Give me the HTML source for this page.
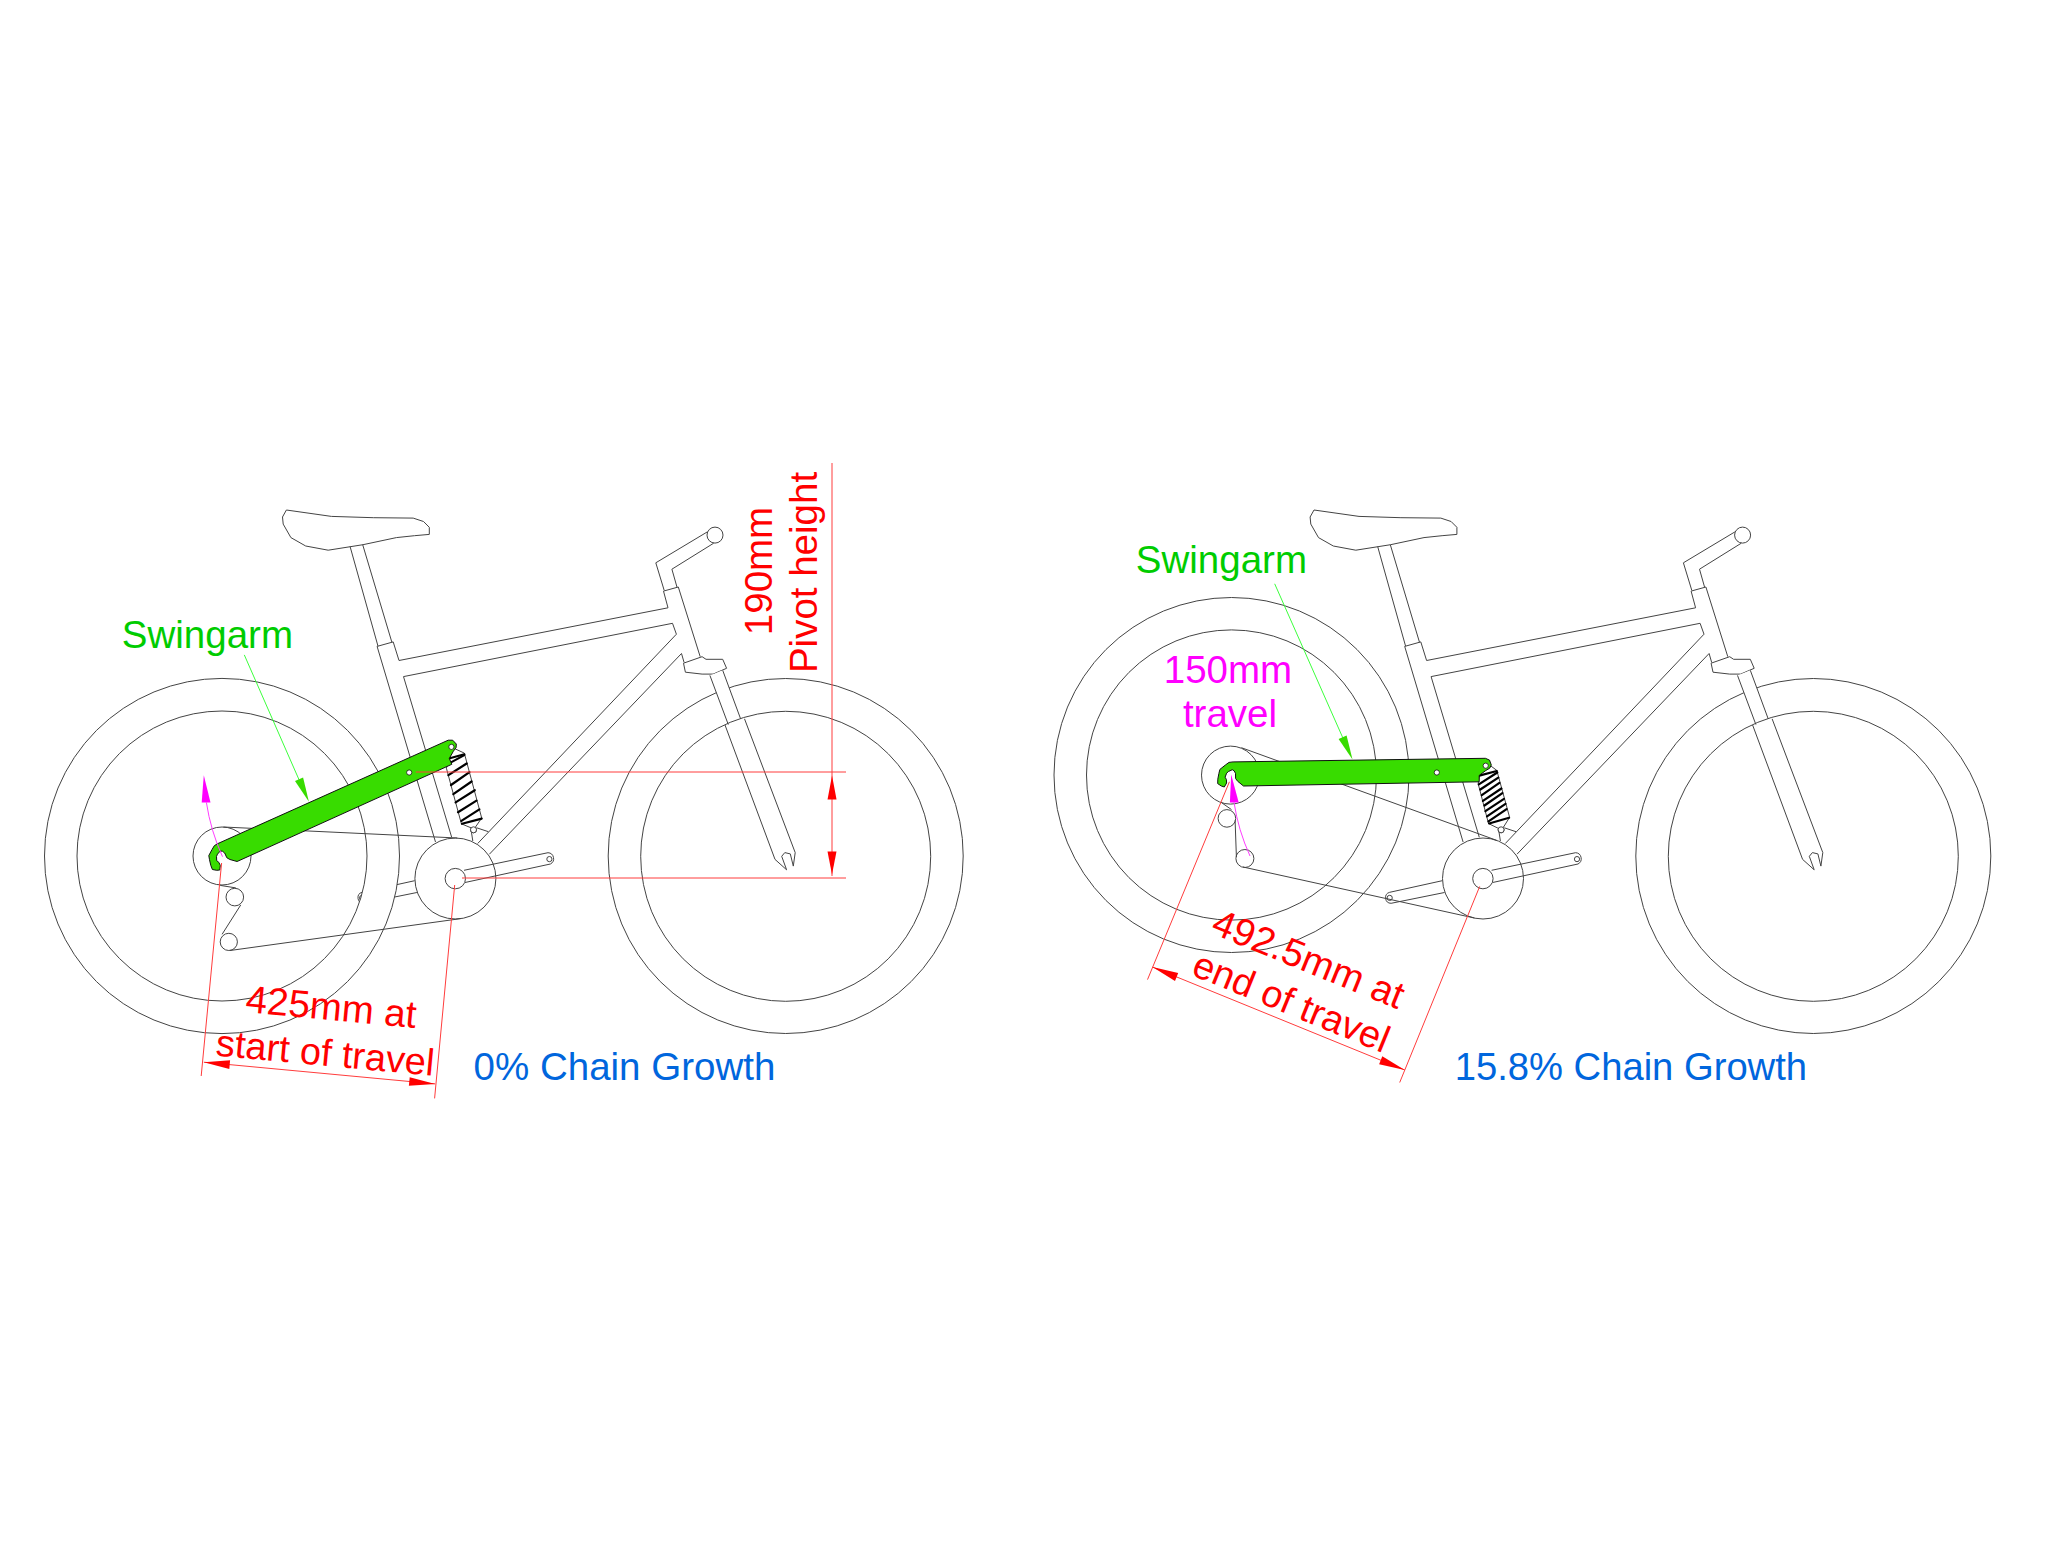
<!DOCTYPE html>
<html><head><meta charset="utf-8"><style>
html,body{margin:0;padding:0;background:#fff;}
body{width:2048px;height:1554px;overflow:hidden;}
svg{display:block;}
text{font-family:"Liberation Sans",sans-serif;}
</style></head><body>
<svg width="2048" height="1554" viewBox="0 0 2048 1554">
<rect width="2048" height="1554" fill="#fff"/>
<g id="draw">
<polygon points="286.4,510 331.4,516.4 373.3,517.7 413.2,518.1 423.5,521.5 429.3,527.3 429.3,534.4 414.5,535.7 396.4,537.6 363,544.7 328.2,550.2 305.7,546 290.9,537.6 283.2,524.1 282.5,517" fill="none" stroke="#444" stroke-width="1"/>
<polyline points="350.1,546.6 378,646.2" fill="none" stroke="#444" stroke-width="1"/>
<polyline points="362.7,544.7 391.9,642.3" fill="none" stroke="#444" stroke-width="1"/>
<polyline points="377.1,646.4 393.2,641.9 399,660.5 668,607.8 663.5,591.1 678.3,587 700.2,656.7" fill="none" stroke="#444" stroke-width="1"/>
<polyline points="377.1,646.4 435.5,842" fill="none" stroke="#444" stroke-width="1"/>
<polyline points="451.7,837.3 403.5,676.6 672.5,623.3 676.4,634.2 477.7,843.5" fill="none" stroke="#444" stroke-width="1"/>
<polyline points="489.4,854.2 681.5,653.5 684.1,662.5" fill="none" stroke="#444" stroke-width="1"/>
<polyline points="664.2,590.4 655.8,562.8 707.3,531.9" fill="none" stroke="#444" stroke-width="1"/>
<polyline points="677,587.2 671.9,569.2 713.7,543.2" fill="none" stroke="#444" stroke-width="1"/>
<circle cx="715" cy="535.1" r="8" fill="none" stroke="#444" stroke-width="1"/>
<polygon points="683.5,663.2 702.1,656.7 706,659.3 722.7,659.3 726.6,668.3 713.1,674.1 702.1,674.1 685.4,672.2" fill="none" stroke="#444" stroke-width="1"/>
<circle cx="785.7" cy="856" r="177.5" fill="none" stroke="#444" stroke-width="1"/>
<polygon points="709.9,675.4 728.1,724.2 740.6,718.8 722.7,670.3" fill="#fff" stroke="none" stroke-width="1"/>
<circle cx="785.7" cy="856.3" r="145" fill="none" stroke="#444" stroke-width="1"/>
<polyline points="709.9,675.4 728.3,724.6" fill="none" stroke="#444" stroke-width="1"/>
<polyline points="722.7,670.3 740.6,718.8" fill="none" stroke="#444" stroke-width="1"/>
<polyline points="725,725 775,859.4 786.6,869.8 781.7,856.3 784.8,852.6 790.3,853.9 793.3,866.1 795.2,852.6 744.5,718.8" fill="none" stroke="#444" stroke-width="1"/>
<circle cx="455.4" cy="878.5" r="40.5" fill="none" stroke="#444" stroke-width="1"/>
<circle cx="455.3" cy="878.6" r="10.2" fill="none" stroke="#444" stroke-width="1"/>
<polyline points="464,870.3 548,852.7" fill="none" stroke="#444" stroke-width="1"/>
<polyline points="465,882.5 550.4,864" fill="none" stroke="#444" stroke-width="1"/>
<path d="M548,852.7 A6,6 0 0 1 550.4,864" fill="none" stroke="#444" stroke-width="1"/>
<circle cx="549.4" cy="859.1" r="2.6" fill="none" stroke="#444" stroke-width="1"/>
<circle cx="473.5" cy="829.8" r="3" fill="none" stroke="#444" stroke-width="1"/>
<polyline points="476.7,827.8 488.4,831.7" fill="none" stroke="#444" stroke-width="1"/>
<polyline points="471.3,831.3 472.8,841" fill="none" stroke="#444" stroke-width="1"/>
<polyline points="414.7,880.7 362.1,892.3" fill="none" stroke="#444" stroke-width="1"/>
<polyline points="416.9,892.5 363.5,903.3" fill="none" stroke="#444" stroke-width="1"/>
<path d="M362.1,892.3 A5.6,5.6 0 0 0 363.5,903.3" fill="none" stroke="#444" stroke-width="1"/>
<circle cx="362.1" cy="897.9" r="2.6" fill="none" stroke="#444" stroke-width="1"/>
<path d="M44.5,856 a177.5,177.5 0 1 0 355,0 a177.5,177.5 0 1 0 -355,0 Z M77,856 a145,145 0 1 0 290,0 a145,145 0 1 0 -290,0 Z" fill="#fff" fill-rule="evenodd" stroke="#444" stroke-width="1"/>
<circle cx="222" cy="856" r="29" fill="none" stroke="#444" stroke-width="1"/>
<polyline points="223.4,827 457.3,838" fill="none" stroke="#444" stroke-width="1"/>
<polyline points="230,950.5 460.9,918.6" fill="none" stroke="#444" stroke-width="1"/>
<polyline points="220.2,885.4 235.8,887.9" fill="none" stroke="#444" stroke-width="1"/>
<circle cx="234.8" cy="897.1" r="8.8" fill="none" stroke="#444" stroke-width="1"/>
<polyline points="240.7,905 222.1,934.3" fill="none" stroke="#444" stroke-width="1"/>
<circle cx="228.8" cy="941.9" r="8.6" fill="none" stroke="#444" stroke-width="1"/>
<polygon points="451.4,746.9 455.6,749.1 464.3,753.1 481.7,818 475.3,827.3 473.6,829.6 472.4,828.4 461.4,823.8 446.4,768.2 449.3,758.4" fill="#fff" stroke="#444" stroke-width="1"/>
<line x1="449.8" y1="758.3" x2="464.3" y2="754.3" stroke="#000" stroke-width="2.2" stroke-linecap="round"/>
<line x1="451" y1="762.4" x2="464.3" y2="755.1" stroke="#000" stroke-width="2.2" stroke-linecap="round"/>
<line x1="448.4" y1="775.1" x2="466.7" y2="763.5" stroke="#000" stroke-width="2.2" stroke-linecap="round"/>
<line x1="451" y1="785" x2="469.5" y2="772.2" stroke="#000" stroke-width="2.2" stroke-linecap="round"/>
<line x1="453.3" y1="794.2" x2="471.6" y2="781.5" stroke="#000" stroke-width="2.2" stroke-linecap="round"/>
<line x1="455.6" y1="802.4" x2="474.8" y2="790.2" stroke="#000" stroke-width="2.2" stroke-linecap="round"/>
<line x1="458" y1="812.2" x2="476.5" y2="800.6" stroke="#000" stroke-width="2.2" stroke-linecap="round"/>
<line x1="461.4" y1="820.9" x2="479.4" y2="809.3" stroke="#000" stroke-width="2.2" stroke-linecap="round"/>
<line x1="462" y1="823.8" x2="481.7" y2="818.6" stroke="#000" stroke-width="2.2" stroke-linecap="round"/>
<circle cx="473.5" cy="829.8" r="3" fill="#fff" stroke="#444" stroke-width="1"/>
<polygon points="218,843.5 448.2,740.2 452.7,740.2 456.3,744 456.1,747.6 453.4,751.2 449.3,758.4 451.8,764.3 237.1,861.5 229.9,859.5 226.8,857.7 224.7,853 222.4,851.2 220.3,851 217.5,854.1 216.5,856.4 216.7,860.7 218.8,862.3 220.3,865.4 219.8,870 216.7,870.3 212.4,869.5 210.8,865.4 209.5,859.7 208.8,855.6 212.1,849.4 214.4,845.6" fill="#38dc00" stroke="#111" stroke-width="1"/>
<circle cx="451.4" cy="746.9" r="2.6" fill="#fff" stroke="#111" stroke-width="0.8"/>
<circle cx="409.2" cy="772.5" r="2.6" fill="#fff" stroke="#111" stroke-width="0.8"/>
<polygon points="1314,510 1359,516.4 1400.9,517.7 1440.8,518.1 1451.1,521.5 1456.9,527.3 1456.9,534.4 1442.1,535.7 1424,537.6 1390.6,544.7 1355.8,550.2 1333.3,546 1318.5,537.6 1310.8,524.1 1310.1,517" fill="none" stroke="#444" stroke-width="1"/>
<polyline points="1377.7,546.6 1405.6,646.2" fill="none" stroke="#444" stroke-width="1"/>
<polyline points="1390.3,544.7 1419.5,642.3" fill="none" stroke="#444" stroke-width="1"/>
<polyline points="1404.7,646.4 1420.8,641.9 1426.6,660.5 1695.6,607.8 1691.1,591.1 1705.9,587 1727.8,656.7" fill="none" stroke="#444" stroke-width="1"/>
<polyline points="1404.7,646.4 1463.1,842" fill="none" stroke="#444" stroke-width="1"/>
<polyline points="1479.3,837.3 1431.1,676.6 1700.1,623.3 1704,634.2 1505.3,843.5" fill="none" stroke="#444" stroke-width="1"/>
<polyline points="1517,854.2 1709.1,653.5 1711.7,662.5" fill="none" stroke="#444" stroke-width="1"/>
<polyline points="1691.8,590.4 1683.4,562.8 1734.9,531.9" fill="none" stroke="#444" stroke-width="1"/>
<polyline points="1704.6,587.2 1699.5,569.2 1741.3,543.2" fill="none" stroke="#444" stroke-width="1"/>
<circle cx="1742.6" cy="535.1" r="8" fill="none" stroke="#444" stroke-width="1"/>
<polygon points="1711.1,663.2 1729.7,656.7 1733.6,659.3 1750.3,659.3 1754.2,668.3 1740.7,674.1 1729.7,674.1 1713,672.2" fill="none" stroke="#444" stroke-width="1"/>
<circle cx="1813.3" cy="856" r="177.5" fill="none" stroke="#444" stroke-width="1"/>
<polygon points="1737.5,675.4 1755.7,724.2 1768.2,718.8 1750.3,670.3" fill="#fff" stroke="none" stroke-width="1"/>
<circle cx="1813.3" cy="856.3" r="145" fill="none" stroke="#444" stroke-width="1"/>
<polyline points="1737.5,675.4 1755.9,724.6" fill="none" stroke="#444" stroke-width="1"/>
<polyline points="1750.3,670.3 1768.2,718.8" fill="none" stroke="#444" stroke-width="1"/>
<polyline points="1752.6,725 1802.6,859.4 1814.2,869.8 1809.3,856.3 1812.4,852.6 1817.9,853.9 1820.9,866.1 1822.8,852.6 1772.1,718.8" fill="none" stroke="#444" stroke-width="1"/>
<circle cx="1483" cy="878.5" r="40.5" fill="none" stroke="#444" stroke-width="1"/>
<circle cx="1482.9" cy="878.6" r="10.2" fill="none" stroke="#444" stroke-width="1"/>
<polyline points="1491.6,870.3 1575.6,852.7" fill="none" stroke="#444" stroke-width="1"/>
<polyline points="1492.6,882.5 1578,864" fill="none" stroke="#444" stroke-width="1"/>
<path d="M1575.6,852.7 A6,6 0 0 1 1578,864" fill="none" stroke="#444" stroke-width="1"/>
<circle cx="1577" cy="859.1" r="2.6" fill="none" stroke="#444" stroke-width="1"/>
<circle cx="1501.1" cy="829.8" r="3" fill="none" stroke="#444" stroke-width="1"/>
<polyline points="1504.3,827.8 1516,831.7" fill="none" stroke="#444" stroke-width="1"/>
<polyline points="1498.9,831.3 1500.4,841" fill="none" stroke="#444" stroke-width="1"/>
<polyline points="1442.3,880.7 1389.7,892.3" fill="none" stroke="#444" stroke-width="1"/>
<polyline points="1444.5,892.5 1391.1,903.3" fill="none" stroke="#444" stroke-width="1"/>
<path d="M1389.7,892.3 A5.6,5.6 0 0 0 1391.1,903.3" fill="none" stroke="#444" stroke-width="1"/>
<circle cx="1389.7" cy="897.9" r="2.6" fill="none" stroke="#444" stroke-width="1"/>
<path d="M1054,775 a177.5,177.5 0 1 0 355,0 a177.5,177.5 0 1 0 -355,0 Z M1086.5,775 a145,145 0 1 0 290,0 a145,145 0 1 0 -290,0 Z" fill="#fff" fill-rule="evenodd" stroke="#444" stroke-width="1"/>
<circle cx="1230.5" cy="775.1" r="29" fill="none" stroke="#444" stroke-width="1"/>
<polyline points="1241.4,747.7 1496.8,840.4" fill="none" stroke="#444" stroke-width="1"/>
<polyline points="1243,867 1474.3,918" fill="none" stroke="#444" stroke-width="1"/>
<polyline points="1221.2,802.4 1231.5,809.6" fill="none" stroke="#444" stroke-width="1"/>
<circle cx="1226.9" cy="818.4" r="8.8" fill="none" stroke="#444" stroke-width="1"/>
<polyline points="1235.1,820.4 1236.4,857" fill="none" stroke="#444" stroke-width="1"/>
<circle cx="1244.9" cy="858.5" r="9" fill="none" stroke="#444" stroke-width="1"/>
<polygon points="1485.1,765 1490.6,765.8 1496.8,770.4 1509.6,817.3 1503.5,827.1 1500.9,829.7 1498.8,828.6 1488.5,823.5 1478.2,783.8 1479.3,775.6" fill="#fff" stroke="#444" stroke-width="1"/>
<line x1="1479.3" y1="775.6" x2="1496.8" y2="771" stroke="#000" stroke-width="2.2" stroke-linecap="round"/>
<line x1="1478.8" y1="784.4" x2="1497.3" y2="772.5" stroke="#000" stroke-width="2.2" stroke-linecap="round"/>
<line x1="1480.3" y1="789.5" x2="1498.3" y2="777.7" stroke="#000" stroke-width="2.2" stroke-linecap="round"/>
<line x1="1481.8" y1="795.2" x2="1499.4" y2="782.8" stroke="#000" stroke-width="2.2" stroke-linecap="round"/>
<line x1="1482.9" y1="800.8" x2="1501.4" y2="788.5" stroke="#000" stroke-width="2.2" stroke-linecap="round"/>
<line x1="1484.4" y1="805.5" x2="1502.4" y2="793.1" stroke="#000" stroke-width="2.2" stroke-linecap="round"/>
<line x1="1485.4" y1="811.1" x2="1504" y2="798.8" stroke="#000" stroke-width="2.2" stroke-linecap="round"/>
<line x1="1487" y1="816.3" x2="1505.5" y2="803.9" stroke="#000" stroke-width="2.2" stroke-linecap="round"/>
<line x1="1488.5" y1="821.4" x2="1506.6" y2="809.1" stroke="#000" stroke-width="2.2" stroke-linecap="round"/>
<line x1="1489.1" y1="823.5" x2="1509.1" y2="817.8" stroke="#000" stroke-width="2.2" stroke-linecap="round"/>
<circle cx="1501.1" cy="829.8" r="3" fill="#fff" stroke="#444" stroke-width="1"/>
<polygon points="1233.1,761.9 1485.4,758.3 1489.5,760.1 1491.3,765 1489.7,768.2 1485.8,770.5 1479.2,775.4 1479.2,781.8 1243.5,786 1237.7,781.3 1235.6,778.5 1235.5,773.3 1234.1,770.8 1232.3,769.7 1228.5,771.5 1226.6,773.2 1225.1,777.2 1226.4,779.5 1226.6,783 1224.3,787 1221.3,786 1217.7,783.6 1217.8,779.2 1218.9,773.4 1219.9,769.4 1225.4,765 1229,762.4" fill="#38dc00" stroke="#111" stroke-width="1"/>
<circle cx="1485.7" cy="765.7" r="2.6" fill="#fff" stroke="#111" stroke-width="0.8"/>
<circle cx="1436.8" cy="772.5" r="2.6" fill="#fff" stroke="#111" stroke-width="0.8"/>
</g>
<g id="annot">
<polyline points="415.8,772 846,772" fill="none" stroke="#ff3c3c" stroke-width="1"/>
<polyline points="462,878 846,878" fill="none" stroke="#ff3c3c" stroke-width="1"/>
<polyline points="832,463 832,876" fill="none" stroke="#ff3c3c" stroke-width="1"/>
<polygon points="832,775.6 827.5,799.4 836.5,799.4" fill="#ff0000"/>
<polygon points="832,874.6 827.5,851.4 836.5,851.4" fill="#ff0000"/>
<polyline points="221.6,863 201.2,1076" fill="none" stroke="#ff3c3c" stroke-width="1"/>
<polyline points="454.7,885 434.6,1098.4" fill="none" stroke="#ff3c3c" stroke-width="1"/>
<polyline points="203.8,1062.2 435.2,1083.9" fill="none" stroke="#ff3c3c" stroke-width="1"/>
<polygon points="203.8,1062.2 230.1,1060.3 229.3,1068.9" fill="#ff0000"/>
<polygon points="435.2,1083.9 408.9,1085.8 409.7,1077.2" fill="#ff0000"/>
<polyline points="1229.4,781.8 1147.5,979.6" fill="none" stroke="#ff3c3c" stroke-width="1"/>
<polyline points="1479.7,886.4 1399.7,1082.5" fill="none" stroke="#ff3c3c" stroke-width="1"/>
<polyline points="1152.5,967.1 1404.8,1070" fill="none" stroke="#ff3c3c" stroke-width="1"/>
<polygon points="1152.5,967.1 1178.2,972.9 1175,980.9" fill="#ff0000"/>
<polygon points="1404.8,1070 1379.1,1064.2 1382.3,1056.2" fill="#ff0000"/>
<path d="M222.5,856.7 A205,205 0 0 1 206.4,802.5" fill="none" stroke="#ff3cff" stroke-width="1"/>
<polygon points="203.8,775.2 201.7,802.5 210.5,802.5" fill="#ff00ff"/>
<path d="M1250,856 A205,205 0 0 1 1234,802.4" fill="none" stroke="#ff3cff" stroke-width="1"/>
<polygon points="1231.2,774.6 1229.9,802.4 1238.7,802.4" fill="#ff00ff"/>
<polyline points="244.3,654.9 302,786.5" fill="none" stroke="#3cff3c" stroke-width="1"/>
<polygon points="308.9,801.8 295,781.1 303.1,777.6" fill="#38dc00"/>
<polyline points="1274.7,583.8 1346,745" fill="none" stroke="#3cff3c" stroke-width="1"/>
<polygon points="1352.5,759.6 1338.6,739 1346.6,735.4" fill="#38dc00"/>
</g>
<g id="txt">
<text x="121.8" y="647.6" fill="#00cc00" stroke="#00cc00" stroke-width="0" font-size="38.5" text-anchor="start">Swingarm</text>
<text x="1135.8" y="573.2" fill="#00cc00" stroke="#00cc00" stroke-width="0" font-size="38.5" text-anchor="start">Swingarm</text>
<text x="473.6" y="1079.5" fill="#0066dd" stroke="#0066dd" stroke-width="0" font-size="38.5" text-anchor="start">0% Chain Growth</text>
<text x="1454.7" y="1079.5" fill="#0066dd" stroke="#0066dd" stroke-width="0" font-size="38.2" text-anchor="start">15.8% Chain Growth</text>
<text x="1228" y="682.7" fill="#ff00ff" stroke="#ff00ff" stroke-width="0" font-size="38.5" text-anchor="middle">150mm</text>
<text x="1230" y="727.3" fill="#ff00ff" stroke="#ff00ff" stroke-width="0" font-size="38.5" text-anchor="middle">travel</text>
<text x="0" y="0" fill="#ff0000" stroke="#ff0000" stroke-width="0" font-size="38.5" text-anchor="middle" transform="translate(771.5,571) rotate(-90)">190mm</text>
<text x="0" y="0" fill="#ff0000" stroke="#ff0000" stroke-width="0" font-size="38.5" text-anchor="middle" transform="translate(817.4,572.5) rotate(-90)">Pivot height</text>
<text x="0" y="0" fill="#ff0000" stroke="#ff0000" stroke-width="0" font-size="38.5" text-anchor="middle" transform="translate(330,1020) rotate(5.36)">425mm at</text>
<text x="-1.6" y="46" fill="#ff0000" stroke="#ff0000" stroke-width="0" font-size="37.9" text-anchor="middle" transform="translate(330,1020) rotate(5.36)">start of travel</text>
<text x="0" y="0" fill="#ff0000" stroke="#ff0000" stroke-width="0" font-size="38.5" text-anchor="middle" transform="translate(1303.5,971) rotate(22.2)">492.5mm at</text>
<text x="0.5" y="46" fill="#ff0000" stroke="#ff0000" stroke-width="0" font-size="37.9" text-anchor="middle" transform="translate(1303.5,971) rotate(22.2)">end of travel</text>
</g>
</svg>
</body></html>
